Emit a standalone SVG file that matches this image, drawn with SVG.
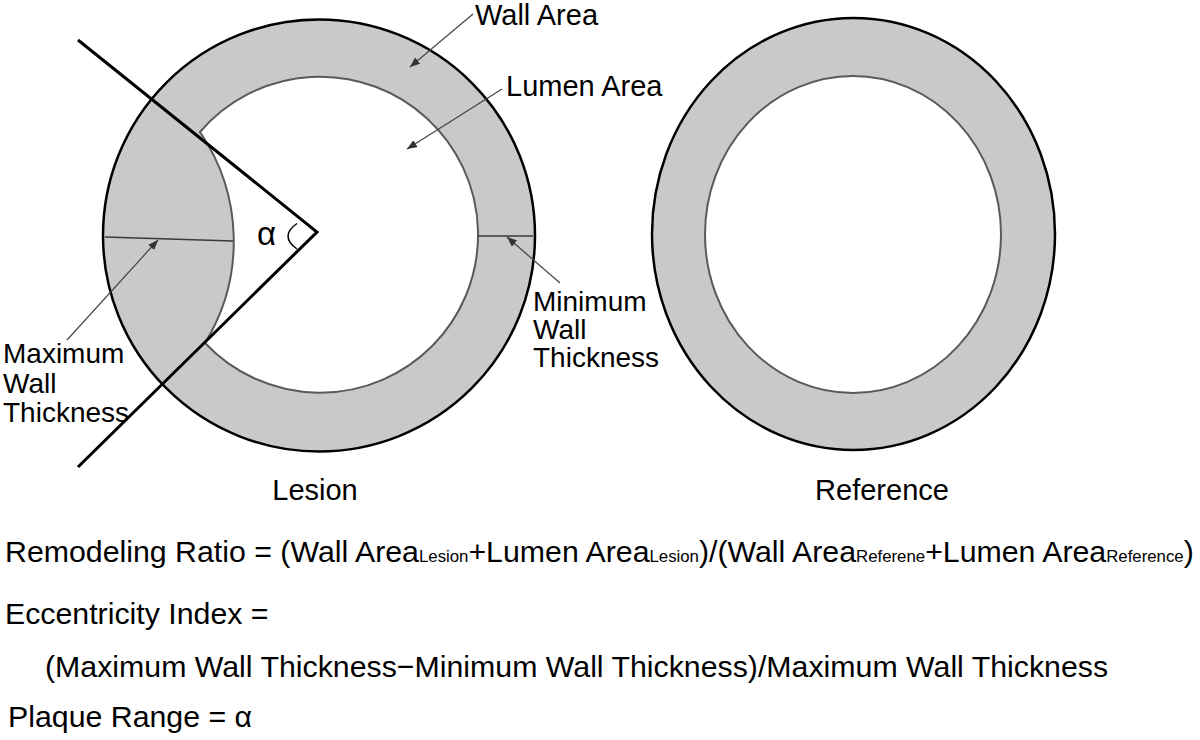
<svg xmlns="http://www.w3.org/2000/svg" width="1200" height="740" viewBox="0 0 1200 740">
<defs>
<marker id="ah" markerUnits="userSpaceOnUse" markerWidth="12" markerHeight="10" refX="10" refY="4" orient="auto">
<path d="M0,0 L10,4 L0,8 Z" fill="#333"/>
</marker>
</defs>
<style>
.wall{fill:#c9c9c9;stroke:#000;stroke-width:2.5}
.lumen{fill:#fff;stroke:#5a5a5a;stroke-width:2}
.angle{fill:none;stroke:#000;stroke-width:3}
.meas{fill:none;stroke:#3a3a3a;stroke-width:1.5}
.ptr{fill:none;stroke:#444;stroke-width:1.2;marker-end:url(#ah)}
text{font-family:"Liberation Sans",Arial,sans-serif;fill:#000}
.lbl{font-size:29px}
.stack{font-size:28px}
.fx{font-size:30.3px}
.sub{font-size:16.8px}
</style>
<rect width="1200" height="740" fill="#fff"/>
<g id="lesion">
<circle class="wall" cx="319" cy="235.5" r="216"/>
<path class="lumen" d="M200,132 A158,158 0 1 1 205,343 A194,194 0 0 0 200,132 Z"/>
<polyline class="angle" points="78,40 317,232 78,467"/>
<line class="meas" x1="105" y1="237" x2="233" y2="241"/>
<line class="meas" x1="478" y1="236" x2="533" y2="236"/>
<text x="257" y="245" style="font-size:33px">α</text>
<path d="M297,223.5 Q279,236 297,249" fill="none" stroke="#000" stroke-width="1.5"/>
<text class="lbl" x="315" y="500" text-anchor="middle">Lesion</text>
</g>
<g id="reference">
<ellipse class="wall" cx="853.5" cy="234" rx="201.5" ry="216"/>
<ellipse class="lumen" cx="853" cy="234.5" rx="148" ry="158.5"/>
<text class="lbl" x="882" y="500" text-anchor="middle">Reference</text>
</g>
<g id="connectors">
<line class="ptr" x1="473" y1="14" x2="410" y2="67"/>
<line class="ptr" x1="502" y1="89" x2="407" y2="149"/>
<line class="ptr" x1="560" y1="283" x2="507" y2="237"/>
<line class="ptr" x1="67" y1="340" x2="158" y2="240"/>
</g>
<g id="labels">
<text class="lbl" x="475" y="25">Wall Area</text>
<text class="lbl" x="506" y="96">Lumen Area</text>
<text class="stack" x="533"><tspan x="533" y="311">Minimum</tspan><tspan x="533" y="339">Wall</tspan><tspan x="533" y="367">Thickness</tspan></text>
<text class="stack" x="3"><tspan x="3" y="363">Maximum</tspan><tspan x="3" y="393">Wall</tspan><tspan x="3" y="422">Thickness</tspan></text>
</g>
<g id="formulas">
<text class="fx" x="5" y="562">Remodeling Ratio = (Wall Area<tspan class="sub">Lesion</tspan>+Lumen Area<tspan class="sub">Lesion</tspan>)/(Wall Area<tspan class="sub">Referene</tspan>+Lumen Area<tspan class="sub">Reference</tspan>)</text>
<text class="fx" x="5" y="624">Eccentricity Index =</text>
<text class="fx" x="45" y="677">(Maximum Wall Thickness−Minimum Wall Thickness)/Maximum Wall Thickness</text>
<text class="fx" x="8" y="727">Plaque Range = α</text>
</g>
</svg>
